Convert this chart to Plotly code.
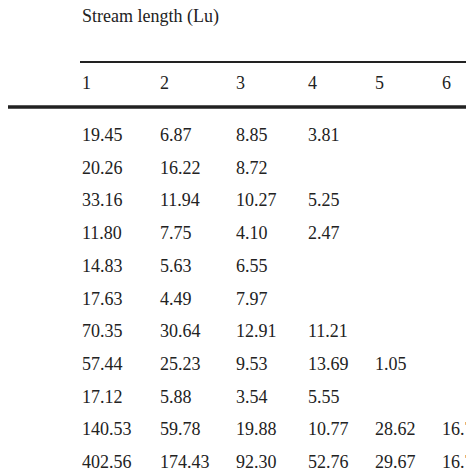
import plotly.graph_objects as go

total_stream = ["44", "61", "82", "33", "39", "46", "173", "121", "54", "270", "923"]
col_labels = ["1", "2", "3", "4", "5", "6"]
lu1 = ["19.45", "20.26", "33.16", "11.80", "14.83", "17.63", "70.35", "57.44", "17.12", "140.53", "402.56"]
lu2 = ["6.87", "16.22", "11.94", "7.75", "5.63", "4.49", "30.64", "25.23", "5.88", "59.78", "174.43"]
lu3 = ["8.85", "8.72", "10.27", "4.10", "6.55", "7.97", "12.91", "9.53", "3.54", "19.88", "92.30"]
lu4 = ["3.81", "", "5.25", "2.47", "", "", "11.21", "13.69", "5.55", "10.77", "52.76"]
lu5 = ["", "", "", "", "", "", "", "1.05", "", "28.62", "29.67"]
lu6 = ["", "", "", "", "", "", "", "", "", "16.72", "16.72"]

font = dict(family="Liberation Serif", size=18, color="#222")
col_x = [82, 160, 236, 308, 375, 442]
row_y0, row_dy = 135, 32.7

ann = []
def txt(x, y, s):
    ann.append(dict(x=x, y=y, text=s, showarrow=False, xanchor="left", yanchor="middle",
                    xref="x", yref="y", font=font, xshift=-2))

for i, s in enumerate(["Total", "stream", "no."]):
    txt(6, 10 + i * 23, s)
txt(82, 16, "Stream length (Lu)")
for x, s in zip(col_x, col_labels):
    txt(x, 83, s)
for r, ts in enumerate(total_stream):
    y = row_y0 + r * row_dy
    txt(6, y, ts)
    for x, col in zip(col_x, [lu1, lu2, lu3, lu4, lu5, lu6]):
        if col[r]:
            txt(x, y, col[r])

shapes = [
    dict(type="line", xref="x", yref="y", x0=80, x1=490, y0=62, y1=62, line=dict(color="#222", width=2)),
    dict(type="line", xref="x", yref="y", x0=0, x1=490, y0=107, y1=107, line=dict(color="#222", width=3.5)),
]

# the page body adds an 8px offset, so the axis ranges are shifted to match window pixels
fig = go.Figure()
fig.update_layout(width=474, height=474, margin=dict(l=0, r=0, t=0, b=0),
                  plot_bgcolor="white", paper_bgcolor="white",
                  xaxis=dict(range=[8, 482], visible=False, fixedrange=True),
                  yaxis=dict(range=[482, 8], visible=False, fixedrange=True),
                  annotations=ann, shapes=shapes, showlegend=False)
fig.write_html("out.html")
